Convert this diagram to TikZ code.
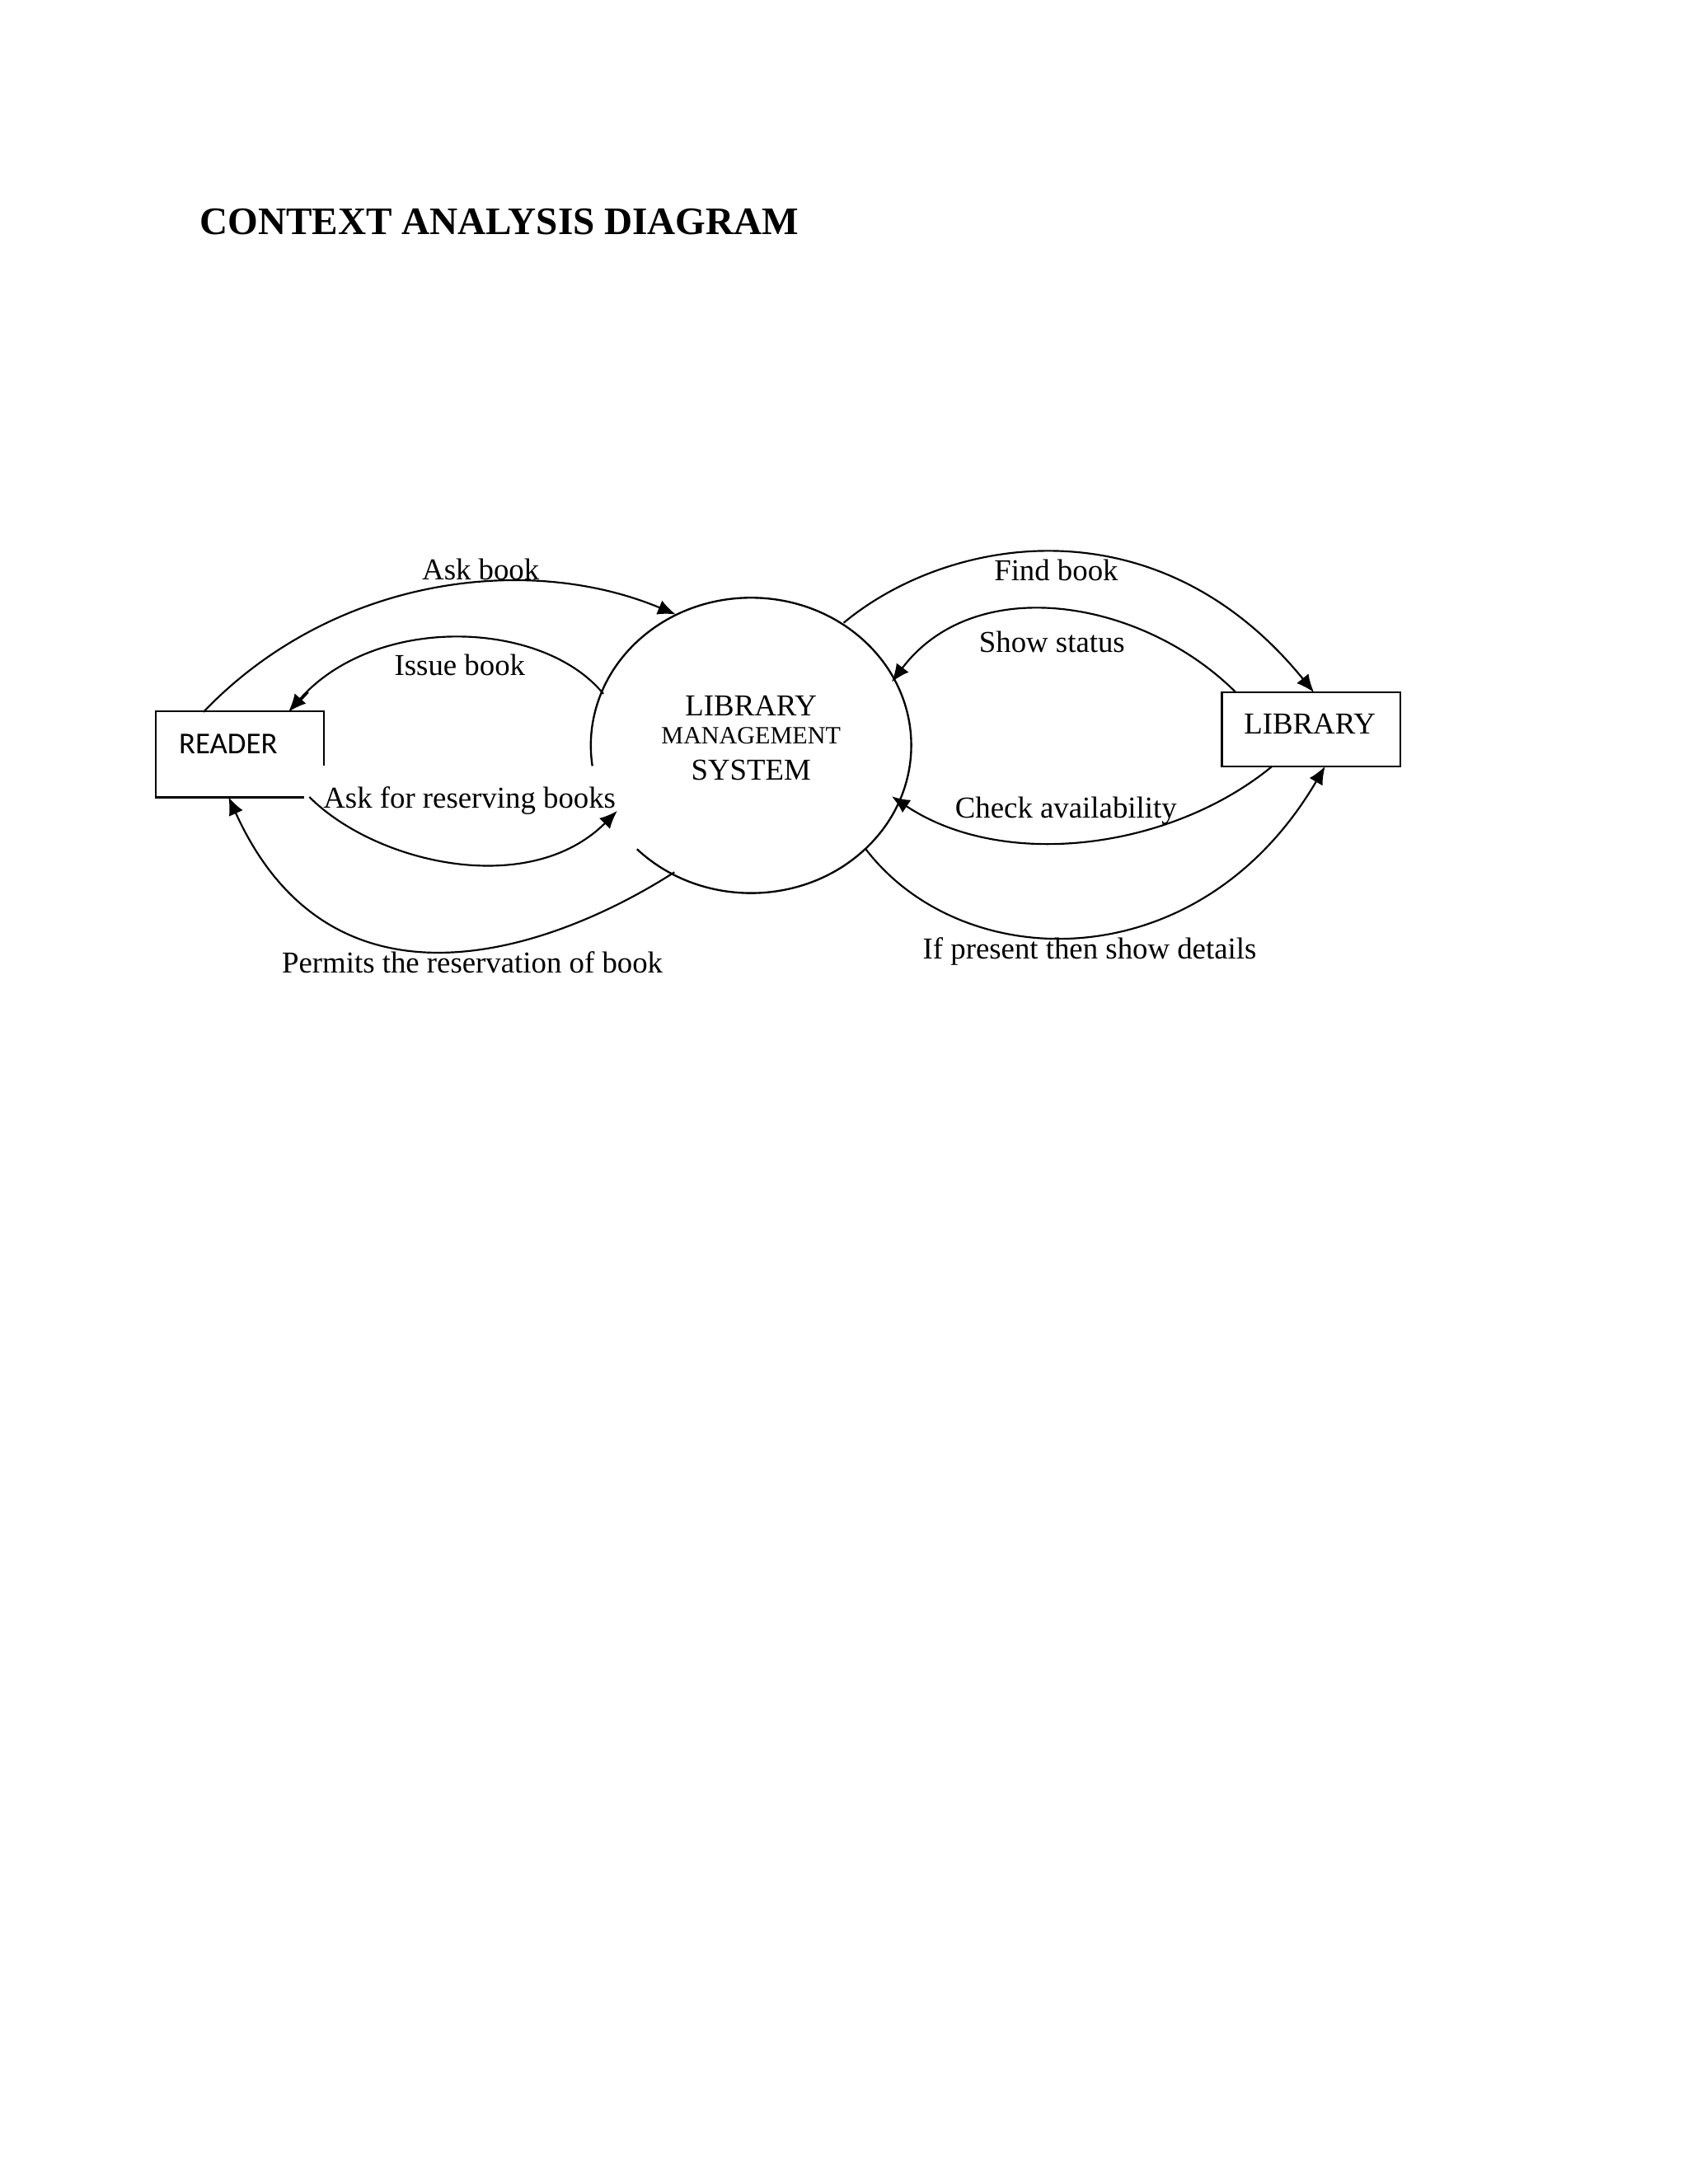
\documentclass[tikz,border=0pt]{standalone}
\usepackage{fontspec}
\setmainfont{Liberation Serif}
\newfontfamily\calibrifont{Carlito}
\usetikzlibrary{arrows.meta,shapes.geometric}
\begin{document}
\begin{tikzpicture}[x=0.50525pt,y=-0.50525pt,
  flow/.style={line width=0.65pt,-{Latex[length=6.5pt,width=5.5pt]}},
  outline/.style={line width=0.7pt},
  lbl/.style={font=\fontsize{11}{13}\selectfont,inner sep=0pt,anchor=base},
  small/.style={font=\fontsize{9}{11}\selectfont,inner sep=0pt,anchor=base}]
\useasboundingbox (0,0) rectangle (1211.28,1567.54);
\fill[white] (0,0) rectangle (1211.28,1567.54);

% title
\node[anchor=base west,inner sep=0pt,font=\fontsize{14.1}{16}\selectfont\bfseries] (title) at (143,168) {CONTEXT ANALYSIS DIAGRAM};

% READER box (open at bottom right)
\node[draw=none,rectangle,minimum width=60.6pt,minimum height=30.8pt,inner sep=0pt] (readerbox) at (172,541.5) {};
\draw[outline] ([xshift=-7.1pt]readerbox.south east) -- (readerbox.south west) -- (readerbox.north west) -- (readerbox.north east) -- ([yshift=-19.7pt]readerbox.north east);
\node[anchor=base west,inner sep=0pt,font=\calibrifont\fontsize{11}{13}\selectfont] (reader) at (128,541) {READER};

% LIBRARY box
\node[draw,outline,rectangle,minimum width=64.7pt,minimum height=26.8pt,inner sep=0pt] (librarybox) at (941,523.5) {};
\node[lbl] (library) at (940,527) {LIBRARY};

% Process circle (with gap on lower left)
\node[draw=none,ellipse,minimum width=116.2pt,minimum height=107.1pt,inner sep=0pt] (lms) at (539,535) {};
\draw[outline] ([shift={(224.6:58.1pt and 53.56pt)}]lms.center) arc[start angle=224.6,end angle=548,x radius=58.1pt,y radius=53.56pt];
\node[lbl] (lms1) at (539,514) {LIBRARY};
\node[small] (lms2) at (539,534) {MANAGEMENT};
\node[lbl] (lms3) at (539,560) {SYSTEM};

% end points
\coordinate (askS) at (146,511);
\coordinate (askE) at (485,441);
\coordinate (issS) at (433,498);
\coordinate (issE) at (207,511);
\coordinate (resS) at (222,572);
\coordinate (resE) at (443,582);
\coordinate (perS) at (484,626);
\coordinate (perE) at (164,572);
\coordinate (finS) at (605.5,447);
\coordinate (finE) at (943,497);
\coordinate (shoS) at (887,497);
\coordinate (shoE) at (640,489.5);
\coordinate (chkS) at (913,550);
\coordinate (chkE) at (640,571.6);
\coordinate (ifpS) at (621,609);
\coordinate (ifpE) at (951,550);
\coordinate (issB1) at (221.2,496.8);
\coordinate (issB2) at (215.3,503.1);

% flows
\draw[flow] (askS) .. controls (240,413) and (380,397) .. (askE);
\draw[flow] (issS) .. controls (390,445) and (270,440) .. (issE);
\draw[line width=0.65pt] (issB1) -- (issB2);
\draw[flow] (resS) .. controls (270,620) and (380,645) .. (resE);
\draw[flow] (perS) .. controls (400,680) and (240,740) .. (perE);
\draw[flow] (finS) .. controls (680,385) and (830,358) .. (finE);
\draw[flow] (shoS) .. controls (820,430) and (700,410) .. (shoE);
\draw[flow] (chkS) .. controls (840,610) and (720,625) .. (chkE);
\draw[flow] (ifpS) .. controls (690,700) and (860,705) .. (ifpE);

% labels
\node[lbl] (l1) at (345,416) {Ask book};
\node[lbl] (l2) at (330,485) {Issue book};
\node[lbl] (l3) at (337,580) {Ask for reserving books};
\node[lbl] (l4) at (339,698) {Permits the reservation of book};
\node[lbl] (l5) at (758,417) {Find book};
\node[lbl] (l6) at (755,468) {Show status};
\node[lbl] (l7) at (765,587) {Check availability};
\node[lbl] (l8) at (782,688) {If present then show details};
\end{tikzpicture}
\end{document}
